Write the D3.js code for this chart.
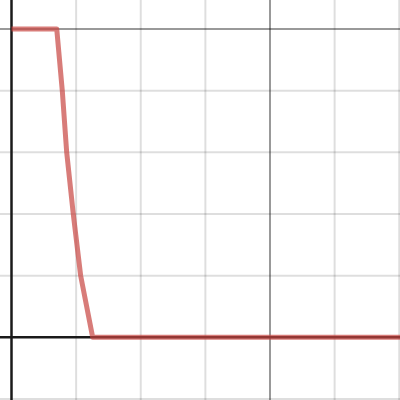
<!DOCTYPE html>
<html>
<head>
<meta charset="utf-8">
<script src="https://cdn.jsdelivr.net/npm/d3@7"></script>
<style>
  html, body { margin: 0; padding: 0; background: #fff; }
  svg { display: block; }
</style>
</head>
<body>
<div class="chart"></div>
<script>
// values
const curveX = [0, 0.35, 0.393, 0.427, 0.478, 0.535, 0.628, 3.2];
const curveY = [5, 5, 4, 3, 2, 1, 0, 0];

const minorTicksX = d3.range(-0.5, 3.5, 0.5);
const majorTicksX = [2];
const minorTicksY = d3.range(-1, 6, 1);
const majorTicksY = [5];

const width = 400;
const height = 400;

const x = d3.scaleLinear()
.domain([-11.5 / 129.25, 388.5 / 129.25])
.range([0, width]);

const y = d3.scaleLinear()
.domain([-62.7 / 61.66, 5 + 29 / 61.66])
.range([height, 0]);

const svg = d3.select('.chart').append('svg')
.attr('width', width)
.attr('height', height);

let grid = svg.append('g');
let axes = svg.append('g');
let lines = svg.append('g');

// minor grid
grid.selectAll('.vx')
.data(minorTicksX.filter(d => d !== 0 && !majorTicksX.includes(d)))
.enter()
.append('line')
.attr('class', 'vx')
.attr('x1', d => x(d)).attr('x2', d => x(d))
.attr('y1', 0).attr('y2', height)
.attr('stroke', '#000')
.attr('stroke-opacity', 0.13)
.attr('stroke-width', 2);

grid.selectAll('.hy')
.data(minorTicksY.filter(d => d !== 0 && !majorTicksY.includes(d)))
.enter()
.append('line')
.attr('class', 'hy')
.attr('y1', d => y(d)).attr('y2', d => y(d))
.attr('x1', 0).attr('x2', width)
.attr('stroke', '#000')
.attr('stroke-opacity', 0.13)
.attr('stroke-width', 2);

// major grid
grid.selectAll('.mx')
.data(majorTicksX)
.enter()
.append('line')
.attr('class', 'mx')
.attr('x1', d => x(d)).attr('x2', d => x(d))
.attr('y1', 0).attr('y2', height)
.attr('stroke', '#000')
.attr('stroke-opacity', 0.4)
.attr('stroke-width', 2);

grid.selectAll('.my')
.data(majorTicksY)
.enter()
.append('line')
.attr('class', 'my')
.attr('y1', d => y(d)).attr('y2', d => y(d))
.attr('x1', 0).attr('x2', width)
.attr('stroke', '#000')
.attr('stroke-opacity', 0.4)
.attr('stroke-width', 2);

// axes
axes.append('line')
.attr('x1', x(0)).attr('x2', x(0))
.attr('y1', 0).attr('y2', height)
.attr('stroke', '#1a1a1a')
.attr('stroke-width', 2.5);

axes.append('line')
.attr('y1', y(0)).attr('y2', y(0))
.attr('x1', 0).attr('x2', width)
.attr('stroke', '#1a1a1a')
.attr('stroke-width', 2.5);

const points = curveX.map((d, i) => [d, curveY[i]]);

const line = d3.line()
.x(d => x(d[0]))
.y(d => y(d[1]));

lines.append('path')
.datum(points)
.attr('d', line)
.attr('fill', 'none')
.attr('stroke', '#c74440')
.attr('stroke-opacity', 0.7)
.attr('stroke-width', 5)
.attr('stroke-linejoin', 'round');
</script>
</body>
</html>
